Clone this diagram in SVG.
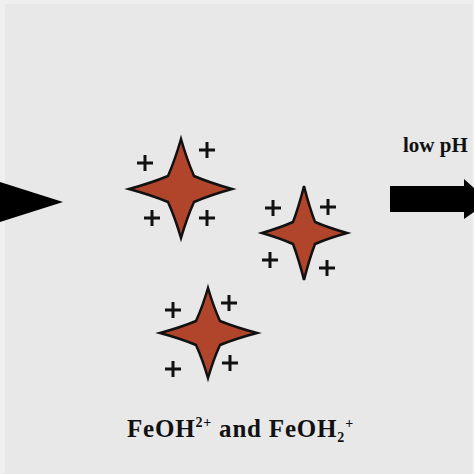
<svg xmlns="http://www.w3.org/2000/svg" width="474" height="474" viewBox="0 0 474 474">
<style>
.star{fill:#b0452b;stroke:#111;stroke-width:2.5;stroke-linejoin:miter}
.plus{stroke:#111;stroke-width:3;fill:none}
.lbl{font-family:"Liberation Serif",serif;font-weight:bold;fill:#111}
</style>
<defs>
<g id="plus"><path class="plus" d="M-8,0H8M0,-8V8"/></g>
</defs>
<rect width="474" height="474" fill="#efefef"/>
<rect x="5" y="4" width="467" height="470" fill="#e8e8e8"/>
<g id="connectors">
<path d="M0,182 L63,202 L0,222 Z" fill="#000"/>
<path d="M390,186 H464 V179 L474,188 V212 L464,219 V212 H390 Z" fill="#000"/>
</g>
<text class="lbl" x="403" y="152" font-size="21">low pH</text>
<g id="star1">
<path class="star" transform="translate(181,189)" d="M0,-50 Q6,-29 13,-13 Q29.4,-6 51,0 Q29.4,6 13,13 Q6,28.5 0,49 Q-6,28.5 -13,13 Q-29.9,6 -52,0 Q-29.9,-6 -13,-13 Q-6,-29 0,-50Z"/>
<use href="#plus" x="145" y="163"/>
<use href="#plus" x="207" y="150"/>
<use href="#plus" x="152" y="218"/>
<use href="#plus" x="207" y="218"/>
</g>
<g id="star2">
<path class="star" transform="translate(304,233)" d="M0,-47 Q5.1,-26.7 11,-11 Q24.8,-5.1 43,0 Q24.8,5.1 11,11 Q5.1,26.7 0,47 Q-5.1,26.7 -11,11 Q-24.4,5.1 -42,0 Q-24.4,-5.1 -11,-11 Q-5.1,-26.7 0,-47Z"/>
<use href="#plus" x="273" y="208"/>
<use href="#plus" x="328" y="207"/>
<use href="#plus" x="270" y="260"/>
<use href="#plus" x="327" y="268"/>
</g>
<g id="star3">
<path class="star" transform="translate(208,333)" d="M0,-45 Q5.5,-26.2 12,-12 Q28.1,-5.5 49,0 Q28.1,5.5 12,12 Q5.5,26.2 0,45 Q-5.5,26.2 -12,12 Q-27.6,5.5 -48,0 Q-27.6,-5.5 -12,-12 Q-5.5,-26.2 0,-45Z"/>
<use href="#plus" x="173" y="310"/>
<use href="#plus" x="229" y="303"/>
<use href="#plus" x="173" y="369"/>
<use href="#plus" x="230" y="363"/>
</g>
<text class="lbl" x="127" y="437" font-size="25" letter-spacing="0.8">FeOH<tspan font-size="14" dy="-10">2+</tspan><tspan dy="10"> and FeOH</tspan><tspan font-size="14" dy="5">2</tspan><tspan font-size="14" dy="-14">+</tspan></text>
</svg>
